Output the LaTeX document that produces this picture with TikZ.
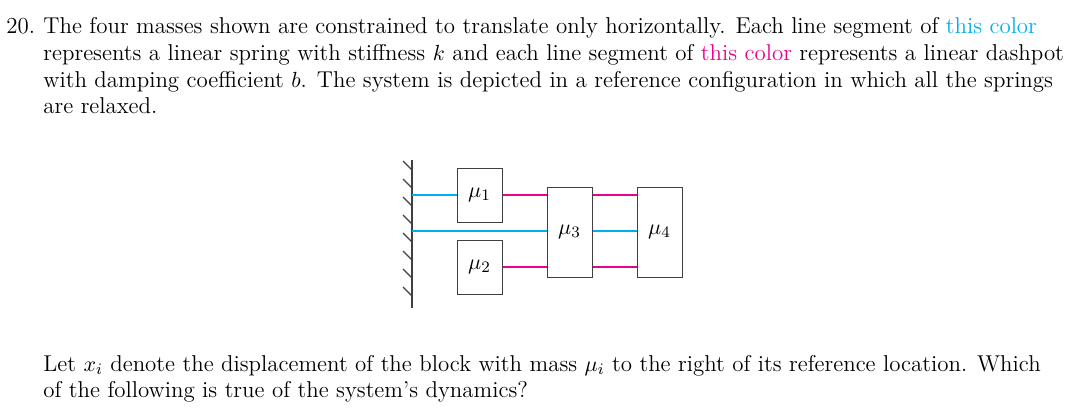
\documentclass[tikz,border=0pt]{standalone}
\definecolor{spr}{RGB}{0,174,239}
\definecolor{dmp}{RGB}{236,0,140}
\begin{document}
\begin{tikzpicture}[x=0.5pt,y=-0.5pt,
 txt/.style={anchor=base west,inner sep=0pt,font=\fontsize{11.45}{13}\selectfont},
 mass/.style={draw=black!75,line width=0.5pt,minimum width=22.5pt,inner sep=0pt,font=\fontsize{11.45}{13}\selectfont},
 sp/.style={spr,line width=1.4pt},
 dp/.style={dmp,line width=1.4pt}]
\useasboundingbox (0,0) rectangle (1080,408);
\node[txt] (l0) at (6,33) {20.};
\node[txt] (l1) at (43,33) {The four masses shown are constrained to translate only horizontally. Each line segment of \textcolor{spr}{this color}};
\node[txt] (l2) at (43,60) {represents a linear spring with stiffness $k$ and each line segment of \textcolor{dmp}{this color} represents a linear dashpot};
\node[txt] (l3) at (43,87) {with damping coefficient $b$. The system is depicted in a reference configuration in which all the springs};
\node[txt] (l4) at (43,113) {are relaxed.};
\node[txt] (l5) at (43,371) {Let $x_i$ denote the displacement of the block with mass $\mu_i$ to the right of its reference location. Which};
\node[txt] (l6) at (43,397) {of the following is true of the system's dynamics?};
% wall
\draw[black!75,line width=0.6pt] (412,160) -- (412,308);
\foreach \y in {170,188,206,224,242,260,278,296} \draw[black!75,line width=0.6pt] (403,\y-9) -- (412,\y);
\coordinate (w1) at (412,195);
\coordinate (w2) at (412,231);
\node[mass,minimum height=27pt] (m1) at (479.5,195) {$\mu_1$};
\node[mass,minimum height=27pt] (m2) at (479.5,267) {$\mu_2$};
\node[mass,minimum height=45pt] (m3) at (569.5,232) {$\mu_3$};
\node[mass,minimum height=45pt] (m4) at (659.5,232) {$\mu_4$};
\draw[sp] (w1) -- (m1.west);
\draw[sp] (w2) -- (w2 -| m3.west);
\draw[dp] (m1.east) -- (m1.east -| m3.west);
\draw[dp] (m2.east) -- (m2.east -| m3.west);
\draw[dp] (m3.east |- m1.east) -- (m4.west |- m1.east);
\draw[sp] (m3.east |- w2) -- (m4.west |- w2);
\draw[dp] (m3.east |- m2.east) -- (m4.west |- m2.east);
\end{tikzpicture}
\end{document}
